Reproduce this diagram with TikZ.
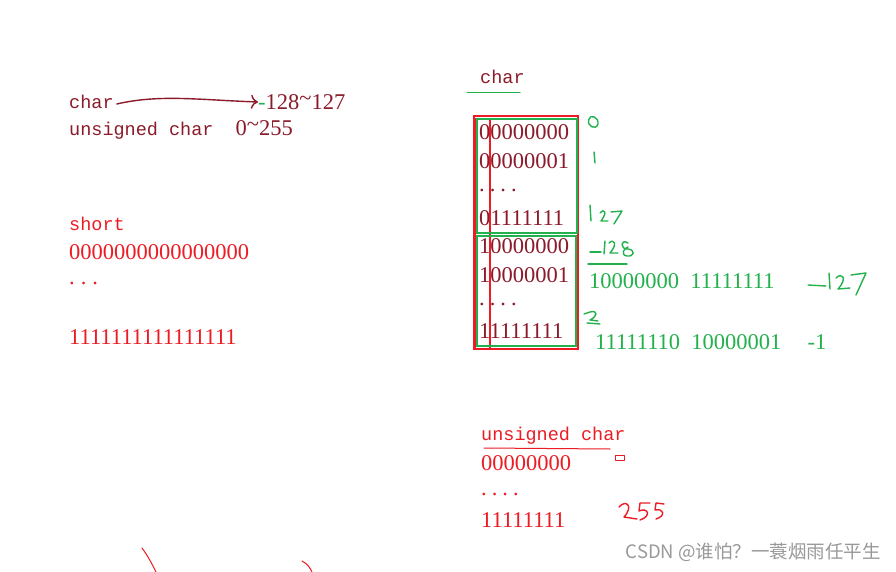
\documentclass[tikz,border=0pt]{standalone}
\usepackage{fontspec}
\usetikzlibrary{arrows.meta}
\setmainfont{Liberation Serif}
\newfontfamily\monof{Liberation Mono}
\newfontfamily\cjk{Noto Sans CJK SC}
\definecolor{dred}{HTML}{8B1A2A}
\definecolor{bred}{HTML}{ED1C24}
\definecolor{grn}{HTML}{22B14C}
\newcommand\fourdots{.\hspace{5pt}.\hspace{5pt}.\hspace{5pt}.}
\begin{document}
\begin{tikzpicture}[x=1pt,y=-1pt,
  t/.style={anchor=west,inner sep=0pt,font=\fontsize{22.5}{22.5}\selectfont},
  m/.style={anchor=west,inner sep=0pt,font=\monof\fontsize{18.5}{18.5}\selectfont},
  pen/.style={line width=1.4pt,line cap=round,line join=round}]
\useasboundingbox[fill=white] (0,0) rectangle (896,572);
% top left
\node[m,text=dred] (c1) at (69,102) {char};
\node[t,text=dred] (r1) at (258,102) {\textcolor{grn}{-}128\raisebox{4pt}{\textasciitilde}127};
\draw[pen,dred,-{To[length=7pt,width=14pt,line width=1.4pt]}] (c1.east) ++(3,2) .. controls (160,94) and (200,100) .. (r1.west);
\node[m,text=dred] at (69,130) {unsigned char\ \ \fontspec{Liberation Serif}\fontsize{22.5}{22.5}\selectfont 0\raisebox{4pt}{\textasciitilde}255};
% short
\node[m,text=bred] at (69,224) {short};
\node[t,text=bred] at (69,252) {0000000000000000};
\node[t,text=bred] at (69,283) {.\hspace{6pt}.\hspace{6pt}.};
\node[t,text=bred] at (69,337) {1111111111111111};
% char column
\node[m,text=dred] (ch) at (480,77) {char};
\draw[pen,grn,line width=1pt] (467,93) -- (520,93);
\foreach \s/\y in {00000000/132,00000001/161,\fourdots/190,01111111/218,10000000/246,10000001/275,\fourdots/304,11111111/331}
  \node[t,text=dred] at (479,\y) {\s};
\draw[bred,line width=2pt] (474,116) rectangle (578,349);
\draw[bred,line width=2pt] (475,119) rectangle (490,349);
\draw[grn,line width=2pt] (477,119) rectangle (577,233);
\draw[grn,line width=2pt] (477,236) rectangle (576,346);
% green annotations
\draw[pen,grn] (589,119) .. controls (586,126) and (596,131) .. (598,124) .. controls (599,117) and (590,114) .. (589,119);
\draw[pen,grn] (594,152) -- (595,163);
\draw[pen,grn] (590,205) -- (591,221);
\draw[pen,grn] (600,213) .. controls (604,208) and (608,212) .. (601,221) -- (608,221);
\draw[pen,grn] (611,212) -- (622,211) -- (614,224);
\draw[pen,grn] (590,252) -- (601,252);
\draw[pen,grn] (605,241) -- (604,254);
\draw[pen,grn] (609,243) .. controls (614,238) and (618,244) .. (610,253) -- (618,253);
\draw[pen,grn] (628,243) .. controls (620,238) and (620,250) .. (628,249) .. controls (636,250) and (634,257) .. (627,256) .. controls (620,255) and (624,248) .. (628,247);
\draw[pen,grn] (588,264) -- (627,264);
\node[t,text=grn] at (589,281) {10000000\ \ 11111111};
\draw[pen,grn] (808,285) -- (826,286);
\draw[pen,grn] (829,273) -- (830,289);
\draw[pen,grn] (836,278) .. controls (842,272) and (848,278) .. (838,289) -- (850,288);
\draw[pen,grn] (851,275) -- (866,273) -- (856,295);
\draw[pen,grn] (584,314) -- (590,312) .. controls (598,310) and (598,316) .. (590,320) -- (598,321);
\draw[pen,grn] (587,323) -- (600,324);
\node[t,text=grn] at (595,342) {11111110\ \ 10000001\ \ \ \ \,-1};
% unsigned char
\node[m,text=bred] (uc) at (481,436) {unsigned char};
\draw[pen,bred,line width=1pt] (484,448) -- (610,449);
\draw[pen,bred,line width=1pt] (615,455) rectangle (624,460);
\node[t,text=bred] at (481,463) {00000000};
\node[t,text=bred] at (481,494) {\fourdots};
\node[t,text=bred] at (481,520) {11111111};
\draw[pen,bred] (619,507) .. controls (626,499) and (634,506) .. (624,517) -- (637,519);
\draw[pen,bred] (650,503) -- (640,503) -- (639,511) .. controls (648,507) and (652,516) .. (640,520);
\draw[pen,bred] (664,504) -- (656,503) -- (655,510) .. controls (664,508) and (666,516) .. (656,519);
% bottom strokes
\draw[pen,bred,line width=1pt] (142,548) .. controls (148,556) and (152,564) .. (156,572);
\draw[pen,bred,line width=1pt] (302,561) .. controls (308,564) and (310,568) .. (312,572);
% watermark
\node[anchor=east,inner sep=0pt,text=gray!80,font=\cjk\fontsize{18.5}{18.5}\selectfont] at (881,552) {CSDN @谁怕？一蓑烟雨任平生};
\end{tikzpicture}
\end{document}
